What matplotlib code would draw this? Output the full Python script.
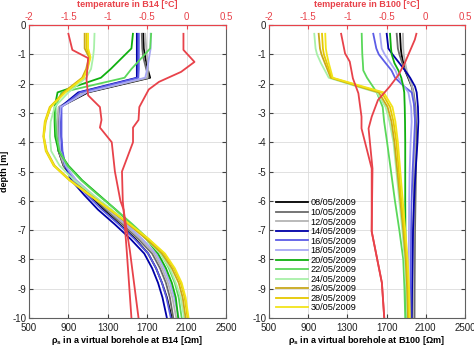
import matplotlib
matplotlib.use('Agg')
import matplotlib.pyplot as plt

plt.rcParams['font.family'] = ['Liberation Sans', 'DejaVu Sans']
plt.rcParams['mathtext.fontset'] = 'custom'
plt.rcParams['mathtext.rm'] = 'Liberation Sans'
plt.rcParams['mathtext.bf'] = 'Liberation Sans:bold'
plt.rcParams['mathtext.it'] = 'Liberation Sans:italic'

# survey dates and line colours
dates = ['08/05/2009', '10/05/2009', '12/05/2009', '14/05/2009', '16/05/2009', '18/05/2009',
         '20/05/2009', '22/05/2009', '24/05/2009', '26/05/2009', '28/05/2009', '30/05/2009']
colors = ['#000000', '#6a6a6a', '#b4b4b4', '#0000a8', '#5c5ce6', '#a8a8f4',
          '#10b010', '#5ad85a', '#a8f0a8', '#c8a81c', '#e6c800', '#f2e41a']
red = '#e8424a'

# ---- B14: apparent resistivity (Ohm m) against depth
depth_b14 = [-0.3, -0.8, -1.1, -1.5, -1.8, -2.3, -2.8, -3.3, -3.8, -4.3, -4.8,
             -5.3, -5.8, -6.3, -6.8, -7.3, -7.8, -8.3, -8.8, -9.3, -10.0]
rho_b14 = [
    [1660, 1665, 1680, 1705, 1730, 1100, 815, 795, 790, 800, 850, 960, 1110, 1260, 1420, 1580, 1710, 1790, 1850, 1900, 1950],
    [1645, 1650, 1660, 1690, 1715, 1080, 805, 790, 785, 800, 850, 965, 1120, 1280, 1450, 1610, 1750, 1830, 1890, 1930, 1965],
    [1680, 1690, 1700, 1710, 1700, 1060, 800, 790, 790, 805, 860, 980, 1140, 1300, 1470, 1630, 1770, 1850, 1910, 1955, 1995],
    [1595, 1595, 1595, 1595, 1595, 1000, 820, 820, 825, 835, 865, 930, 1060, 1200, 1370, 1530, 1670, 1750, 1810, 1855, 1900],
    [1615, 1615, 1615, 1615, 1610, 1020, 830, 830, 830, 840, 870, 950, 1090, 1240, 1410, 1570, 1710, 1790, 1850, 1895, 1940],
    [1735, 1735, 1720, 1700, 1680, 1080, 820, 810, 810, 820, 870, 980, 1150, 1320, 1490, 1650, 1790, 1870, 1930, 1975, 2020],
    [1555, 1540, 1450, 1330, 1230, 790, 760, 760, 765, 800, 900, 1040, 1210, 1380, 1540, 1690, 1810, 1890, 1950, 1990, 2015],
    [1740, 1730, 1650, 1540, 1470, 830, 770, 770, 780, 810, 890, 1030, 1200, 1380, 1550, 1710, 1840, 1920, 1980, 2020, 2050],
    [1165, 1160, 1150, 1130, 1080, 900, 760, 720, 712, 725, 810, 960, 1150, 1340, 1520, 1690, 1830, 1930, 1990, 2040, 2075],
    [1065, 1065, 1110, 1080, 1040, 850, 720, 670, 650, 680, 760, 920, 1120, 1320, 1510, 1690, 1850, 1950, 2020, 2060, 2090],
    [1085, 1085, 1120, 1090, 1050, 860, 710, 660, 645, 670, 750, 910, 1110, 1320, 1520, 1710, 1870, 1970, 2040, 2080, 2110],
    [1100, 1100, 1125, 1095, 1055, 870, 720, 665, 650, 675, 755, 915, 1115, 1325, 1525, 1715, 1880, 1980, 2050, 2090, 2120],
]

# B14 temperature profiles (deg C)
t1_depth_b14 = [-0.3, -0.85, -1.13, -1.87, -2.4, -2.8, -3.24, -3.5, -4.0, -5.0, -6.0, -6.3, -7.7, -10.0]
t1_b14 = [-1.5, -1.45, -1.25, -1.27, -1.25, -1.1, -1.08, -1.1, -0.95, -0.91, -0.84, -0.80, -0.72, -0.61]
t2_depth_b14 = [-0.3, -0.85, -1.26, -1.6, -1.94, -2.2, -2.8, -3.24, -3.5, -4.0, -5.0, -6.0, -6.3, -7.7, -10.0]
t2_b14 = [-0.04, -0.04, 0.10, -0.07, -0.35, -0.48, -0.60, -0.61, -0.68, -0.68, -0.82, -0.81, -0.80, -0.76, -0.70]

# ---- B100
depth_b100 = [-0.3, -0.8, -1.0, -1.3, -1.55, -1.8, -2.1, -2.3, -2.8, -3.3, -4.0,
              -5.0, -6.0, -7.0, -8.0, -9.0, -10.0]
rho_b100 = [
    [1837, 1845, 1852, 1870, 1888, 1920, 1956, 1970, 1985, 1990, 1990, 1985, 1980, 1975, 1970, 1968, 1965],
    [1803, 1815, 1830, 1860, 1890, 1925, 1960, 1975, 1995, 2000, 2005, 2000, 1995, 1990, 1988, 1986, 1985],
    [1867, 1870, 1875, 1890, 1905, 1930, 1960, 1970, 1985, 1990, 1990, 1985, 1980, 1975, 1972, 1970, 1970],
    [1701, 1718, 1760, 1830, 1888, 1940, 1990, 2007, 2020, 2024, 2015, 1995, 1980, 1970, 1965, 1960, 1956],
    [1564, 1595, 1620, 1690, 1750, 1786, 1880, 1956, 1985, 1990, 1980, 1965, 1955, 1950, 1948, 1946, 1945],
    [1633, 1650, 1680, 1740, 1790, 1820, 1880, 1922, 1950, 1956, 1945, 1935, 1930, 1928, 1926, 1925, 1925],
    [1735, 1745, 1752, 1780, 1820, 1850, 1870, 1880, 1885, 1888, 1890, 1890, 1890, 1892, 1895, 1895, 1898],
    [1446, 1450, 1452, 1458, 1462, 1500, 1560, 1600, 1660, 1675, 1705, 1745, 1785, 1830, 1870, 1882, 1890],
    [962, 975, 990, 1030, 1070, 1110, 1400, 1600, 1690, 1730, 1770, 1800, 1830, 1860, 1885, 1900, 1910],
    [1007, 1020, 1035, 1070, 1100, 1130, 1420, 1620, 1710, 1750, 1780, 1810, 1840, 1870, 1895, 1910, 1918],
    [1041, 1050, 1060, 1090, 1115, 1140, 1440, 1650, 1735, 1770, 1800, 1825, 1850, 1880, 1905, 1920, 1928],
    [1074, 1080, 1090, 1110, 1130, 1150, 1460, 1670, 1760, 1790, 1815, 1840, 1865, 1890, 1915, 1930, 1938],
]

t1_depth_b100 = [-0.3, -0.97, -1.25, -1.82, -2.33, -3.13, -3.53, -4.9, -7.05, -8.8, -10.0]
t1_b100 = [-1.08, -1.03, -0.97, -0.93, -0.86, -0.82, -0.82, -0.69, -0.69, -0.56, -0.53]
t2_depth_b100 = [-0.3, -0.5, -1.31, -1.71, -2.1, -2.56, -3.13, -3.53, -4.9, -7.05, -8.8, -10.0]
t2_b100 = [-0.12, -0.14, -0.27, -0.35, -0.46, -0.61, -0.69, -0.73, -0.68, -0.69, -0.56, -0.53]

rho_ticks = [500, 900, 1300, 1700, 2100, 2500]
temp_ticks = [-2, -1.5, -1, -0.5, 0, 0.5]
temp_labels = ['-2', '-1.5', '-1', '-0.5', '0', '0.5']
depth_ticks = list(range(0, -11, -1))

fig = plt.figure(figsize=(4.74, 3.47), dpi=100)
W, H = 474, 347
fs_tick = 7.0
fs_lab = 6.5


def panel(rect, depth, rho, tdepths, temps, name, ylabel):
    ax = fig.add_axes(rect)
    for vals, c, lab in zip(rho, colors, dates):
        ax.plot(vals, depth, color=c, lw=1.3, label=lab)
    ax.set_xlim(500, 2500)
    ax.set_ylim(-10, 0)
    ax.set_xticks(rho_ticks)
    ax.set_yticks(depth_ticks)
    ax.set_yticklabels([str(d) for d in depth_ticks])
    ax.grid(True, color='#dcdcdc', lw=0.6)
    ax.tick_params(direction='in', length=3, labelsize=fs_tick, colors='#404040',
                   labelcolor='#202020', right=True, pad=2)
    ax.tick_params(axis='x', pad=3.5)
    for s in ['left', 'right', 'bottom']:
        ax.spines[s].set_color('#606060')
    ax.set_xlabel(r'ρ$_\mathbf{s}$ in a virtual borehole at ' + name + ' [Ωm]',
                  fontsize=fs_lab, fontweight='bold', labelpad=1)
    if ylabel:
        ax.set_ylabel('depth [m]', fontsize=fs_lab, fontweight='bold', labelpad=2)

    tx = ax.twiny()
    for td, tv in zip(tdepths, temps):
        tx.plot(tv, td, color=red, lw=1.3)
    tx.set_xlim(-2, 0.5)
    tx.set_xticks(temp_ticks)
    tx.set_xticklabels(temp_labels)
    tx.tick_params(direction='in', length=3, labelsize=fs_tick, colors=red, pad=2.5)
    tx.spines['top'].set_color(red)
    for s in ['left', 'right', 'bottom']:
        tx.spines[s].set_visible(False)
    tx.set_xlabel('temperature in ' + name + ' [°C]', color=red,
                  fontsize=fs_lab, fontweight='bold', labelpad=3)
    return ax


axL = panel([29 / W, 29 / H, 197 / W, 293 / H], depth_b14, rho_b14,
            [t1_depth_b14, t2_depth_b14], [t1_b14, t2_b14], 'B14', True)
axR = panel([269 / W, 29 / H, 196 / W, 293 / H], depth_b100, rho_b100,
            [t1_depth_b100, t2_depth_b100], [t1_b100, t2_b100], 'B100', False)

axR.legend(loc='lower left', bbox_to_anchor=(0.01, 0.0), frameon=False,
           fontsize=6.6, handlelength=3.4, handletextpad=0.3, labelspacing=0.06,
           borderaxespad=0.2)

fig.savefig('out.png', dpi=100)
